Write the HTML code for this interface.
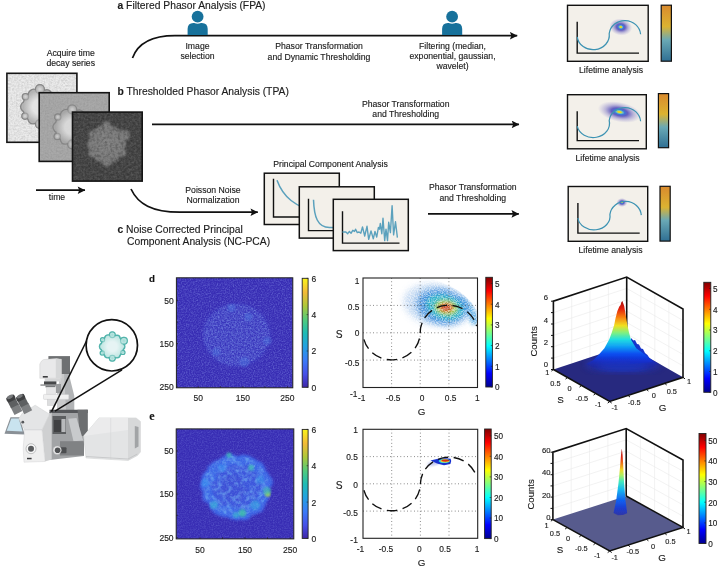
<!DOCTYPE html>
<html><head><meta charset="utf-8"><title>Phasor analysis figure</title>
<style>html,body{margin:0;padding:0;background:#fff}svg{display:block}text{font-family:'Liberation Sans',Arial,sans-serif;stroke:#222;stroke-width:0.14px}text.sf{font-family:'Liberation Serif',serif}</style></head>
<body><svg width="720" height="567" viewBox="0 0 720 567">
<defs>
<marker id="ah" viewBox="0 0 10 10" refX="9.6" refY="5" markerWidth="9" markerHeight="7.6" markerUnits="userSpaceOnUse" orient="auto"><path d="M0,0 L10,5 L0,10 L1.9,5 Z" fill="#111"/></marker>
<linearGradient id="cbA" x1="0" y1="0" x2="0" y2="1"><stop offset="0" stop-color="#d98a2e"/><stop offset="0.38" stop-color="#dcb331"/><stop offset="0.62" stop-color="#6aa9b5"/><stop offset="1" stop-color="#2f6f93"/></linearGradient>
<linearGradient id="parula" x1="0" y1="1" x2="0" y2="0"><stop offset="0" stop-color="#3e26a8"/><stop offset="0.12" stop-color="#4650e8"/><stop offset="0.25" stop-color="#3a7cf8"/><stop offset="0.38" stop-color="#22a3e0"/><stop offset="0.5" stop-color="#1fbcb4"/><stop offset="0.62" stop-color="#52cb7c"/><stop offset="0.75" stop-color="#b0c838"/><stop offset="0.87" stop-color="#f2ba38"/><stop offset="1" stop-color="#f9f418"/></linearGradient>
<linearGradient id="jet" x1="0" y1="1" x2="0" y2="0"><stop offset="0" stop-color="#00008f"/><stop offset="0.125" stop-color="#0000ff"/><stop offset="0.375" stop-color="#00ffff"/><stop offset="0.5" stop-color="#80ff80"/><stop offset="0.625" stop-color="#ffff00"/><stop offset="0.875" stop-color="#ff0000"/><stop offset="1" stop-color="#800000"/></linearGradient>
<radialGradient id="blob"><stop offset="0" stop-color="#f0d818"/><stop offset="0.07" stop-color="#ecd820"/><stop offset="0.15" stop-color="#6cc4c0"/><stop offset="0.24" stop-color="#3f74d8"/><stop offset="0.38" stop-color="#4c46b8" stop-opacity="0.85"/><stop offset="0.65" stop-color="#6c64c0" stop-opacity="0.42"/><stop offset="1" stop-color="#9088d0" stop-opacity="0"/></radialGradient>
<filter id="nz1" x="0" y="0" width="1" height="1"><feTurbulence type="fractalNoise" baseFrequency="0.55" numOctaves="2" seed="3" result="t"/><feColorMatrix type="matrix" values="0 0 0 0 0  0 0 0 0 0  0 0 0 0 0  1.5 1.5 0 0 -1.1" result="n"/><feComposite in="SourceGraphic" in2="n" operator="in"/></filter>
<filter id="nz2" x="0" y="0" width="1" height="1"><feTurbulence type="fractalNoise" baseFrequency="0.38" numOctaves="2" seed="13" result="t"/><feColorMatrix type="matrix" values="0 0 0 0 0  0 0 0 0 0  0 0 0 0 0  2.2 2.2 0 0 -1.9" result="n"/><feComposite in="SourceGraphic" in2="n" operator="in"/></filter>
<filter id="nz3" x="0" y="0" width="1" height="1"><feTurbulence type="fractalNoise" baseFrequency="0.42" numOctaves="2" seed="29" result="t"/><feColorMatrix type="matrix" values="0 0 0 0 0  0 0 0 0 0  0 0 0 0 0  0 2.2 2.2 0 -1.9" result="n"/><feComposite in="SourceGraphic" in2="n" operator="in"/></filter>
<radialGradient id="cb_g1"><stop offset="0.45" stop-color="#e4e4e4"/><stop offset="1" stop-color="#b0b0b0"/></radialGradient>
<radialGradient id="cp_g1"><stop offset="0.2" stop-color="#d2d2d2"/><stop offset="1" stop-color="#b0b0b0"/></radialGradient>
<radialGradient id="cb_g2"><stop offset="0.45" stop-color="#dcdcdc"/><stop offset="1" stop-color="#a8a8a8"/></radialGradient>
<radialGradient id="cp_g2"><stop offset="0.2" stop-color="#cccccc"/><stop offset="1" stop-color="#a8a8a8"/></radialGradient>
<radialGradient id="cb_g3"><stop offset="0.45" stop-color="#868686"/><stop offset="1" stop-color="#7e7e7e"/></radialGradient>
<radialGradient id="cp_g3"><stop offset="0.2" stop-color="#848484"/><stop offset="1" stop-color="#7e7e7e"/></radialGradient>
<radialGradient id="cb_t"><stop offset="0.45" stop-color="#e6f4f4"/><stop offset="1" stop-color="#c4e8e4"/></radialGradient>
<radialGradient id="cp_t"><stop offset="0.2" stop-color="#a8ded8"/><stop offset="1" stop-color="#c4e8e4"/></radialGradient>
<filter id="nzh" x="0" y="0" width="1" height="1"><feTurbulence type="fractalNoise" baseFrequency="0.75" numOctaves="2" seed="9"/><feColorMatrix type="matrix" values="0 0 0 0 0.28  0 0 0 0 0.34  0 0 0 0 0.86  1.4 1.4 0 0 -1.15"/></filter>
<filter id="nzh3" x="0" y="0" width="1" height="1"><feTurbulence type="fractalNoise" baseFrequency="0.6" numOctaves="2" seed="17"/><feColorMatrix type="matrix" values="0 0 0 0 0.28  0 0 0 0 0.45  0 0 0 0 0.92  1.8 1.8 0 0 -1.55"/><feComposite in2="SourceGraphic" operator="in"/></filter>
<filter id="nzh2" x="0" y="0" width="1" height="1"><feTurbulence type="fractalNoise" baseFrequency="0.22" numOctaves="3" seed="4"/><feColorMatrix type="matrix" values="0 0 0 0 0.2  0 0 0 0 0.55  0 0 0 0 0.93  2.0 2.0 0 0 -1.75"/><feComposite in2="SourceGraphic" operator="in"/></filter>
<filter id="blur3"><feGaussianBlur stdDeviation="3"/></filter><filter id="blur2"><feGaussianBlur stdDeviation="1.6"/></filter><filter id="blur1"><feGaussianBlur stdDeviation="0.8"/></filter>
<filter id="rough" x="-0.1" y="-0.1" width="1.2" height="1.2"><feTurbulence type="fractalNoise" baseFrequency="0.09" numOctaves="2" seed="8" result="t"/><feDisplacementMap in="SourceGraphic" in2="t" scale="9" xChannelSelector="R" yChannelSelector="G"/><feGaussianBlur stdDeviation="1.1"/></filter>
<filter id="spk" x="0" y="0" width="1" height="1"><feTurbulence type="fractalNoise" baseFrequency="0.85" numOctaves="1" seed="21"/><feColorMatrix type="matrix" values="0 0 0 0 1  0 0 0 0 1  0 0 0 0 1  3 3 0 0 -2.6"/></filter>
<linearGradient id="pkg1" gradientUnits="userSpaceOnUse" x1="0" y1="366" x2="0" y2="300.9"><stop offset="0" stop-color="#1c24a4"/><stop offset="0.09" stop-color="#1232d6"/><stop offset="0.19" stop-color="#0c50f0"/><stop offset="0.3" stop-color="#10a0f4"/><stop offset="0.41" stop-color="#22e0e0"/><stop offset="0.51" stop-color="#80f080"/><stop offset="0.62" stop-color="#f0e020"/><stop offset="0.75" stop-color="#f88010"/><stop offset="0.88" stop-color="#e42010"/><stop offset="1" stop-color="#a81010"/></linearGradient>
<filter id="blur05"><feGaussianBlur stdDeviation="0.45"/></filter>
<linearGradient id="pkfade" gradientUnits="userSpaceOnUse" x1="0" y1="356" x2="0" y2="371"><stop offset="0" stop-color="#fff"/><stop offset="1" stop-color="#000"/></linearGradient><mask id="pkmask"><rect x="560" y="290" width="130" height="66.5" fill="#fff"/><rect x="560" y="356" width="130" height="20" fill="url(#pkfade)"/></mask>
<linearGradient id="pkg2" gradientUnits="userSpaceOnUse" x1="0" y1="515" x2="0" y2="448.5"><stop offset="0" stop-color="#3038a8"/><stop offset="0.1" stop-color="#1c3cd0"/><stop offset="0.22" stop-color="#1060f0"/><stop offset="0.38" stop-color="#18b8f0"/><stop offset="0.5" stop-color="#40e8c0"/><stop offset="0.6" stop-color="#b0f060"/><stop offset="0.68" stop-color="#f0d828"/><stop offset="0.76" stop-color="#f08818"/><stop offset="0.86" stop-color="#e02c14"/><stop offset="1" stop-color="#a01010"/></linearGradient>
</defs>
<rect width="720" height="567" fill="#fff"/>
<g><clipPath id="gc1"><rect x="6.9" y="73.3" width="70" height="69"/></clipPath>
<rect x="6.9" y="73.3" width="70" height="69" fill="#ececec"/>
<rect x="6.9" y="73.3" width="70" height="69" fill="#c8c8c8" filter="url(#nz1)" opacity="0.7"/>
<g clip-path="url(#gc1)"><g opacity="0.93"><g filter="url(#blur05)"><circle cx="46.9" cy="94.6" r="5.6" fill="#808080"/><circle cx="54.0" cy="106.8" r="5.6" fill="#808080"/><circle cx="46.9" cy="119.0" r="5.6" fill="#808080"/><circle cx="32.9" cy="119.0" r="5.6" fill="#808080"/><circle cx="25.8" cy="106.8" r="5.9" fill="#808080"/><circle cx="33.9" cy="94.0" r="5.6" fill="#808080"/><circle cx="33.0" cy="94.9" r="5.6" fill="#808080"/><circle cx="39.9" cy="106.8" r="17.9" fill="#808080"/><circle cx="39.9" cy="89.2" r="5.1" fill="#808080"/><circle cx="57.1" cy="98.0" r="5.8" fill="#808080"/><circle cx="55.6" cy="115.5" r="3.8" fill="#808080"/><circle cx="39.9" cy="124.0" r="5.1" fill="#808080"/><circle cx="25.0" cy="116.1" r="3.8" fill="#808080"/><circle cx="25.5" cy="96.7" r="3.8" fill="#808080"/><circle cx="46.9" cy="94.6" r="4.2" fill="#b0b0b0"/><circle cx="54.0" cy="106.8" r="4.2" fill="#b0b0b0"/><circle cx="46.9" cy="119.0" r="4.2" fill="#b0b0b0"/><circle cx="32.9" cy="119.0" r="4.2" fill="#b0b0b0"/><circle cx="25.8" cy="106.8" r="4.5" fill="#b0b0b0"/><circle cx="33.9" cy="94.0" r="4.2" fill="#b0b0b0"/><circle cx="33.0" cy="94.9" r="4.2" fill="#b0b0b0"/><circle cx="39.9" cy="106.8" r="16.5" fill="url(#cb_g1)"/><circle cx="39.9" cy="89.2" r="5.0" fill="#808080" opacity="0.55"/><circle cx="39.9" cy="89.2" r="3.9" fill="url(#cp_g1)"/><circle cx="57.1" cy="98.0" r="5.7" fill="#808080" opacity="0.55"/><circle cx="57.1" cy="98.0" r="4.6" fill="url(#cp_g1)"/><circle cx="55.6" cy="115.5" r="3.7" fill="#808080" opacity="0.55"/><circle cx="55.6" cy="115.5" r="2.6" fill="url(#cp_g1)"/><circle cx="39.9" cy="124.0" r="5.0" fill="#808080" opacity="0.55"/><circle cx="39.9" cy="124.0" r="3.9" fill="url(#cp_g1)"/><circle cx="25.0" cy="116.1" r="3.7" fill="#808080" opacity="0.55"/><circle cx="25.0" cy="116.1" r="2.6" fill="url(#cp_g1)"/><circle cx="25.5" cy="96.7" r="3.7" fill="#808080" opacity="0.55"/><circle cx="25.5" cy="96.7" r="2.6" fill="url(#cp_g1)"/></g></g></g>
<rect x="6.9" y="73.3" width="70" height="69" fill="none" stroke="#151515" stroke-width="1.6"/></g>
<g><clipPath id="gc2"><rect x="39.2" y="92.7" width="70" height="68.7"/></clipPath>
<rect x="39.2" y="92.7" width="70" height="68.7" fill="#a9a9a9"/>
<rect x="39.2" y="92.7" width="70" height="68.7" fill="#969696" filter="url(#nz1)" opacity="0.6"/>
<g clip-path="url(#gc2)"><g opacity="0.93"><g filter="url(#blur05)"><circle cx="79.2" cy="114.9" r="5.6" fill="#858585"/><circle cx="86.3" cy="127.1" r="5.6" fill="#858585"/><circle cx="79.2" cy="139.2" r="5.6" fill="#858585"/><circle cx="65.2" cy="139.2" r="5.6" fill="#858585"/><circle cx="58.1" cy="127.1" r="5.9" fill="#858585"/><circle cx="66.2" cy="114.3" r="5.6" fill="#858585"/><circle cx="65.3" cy="115.2" r="5.6" fill="#858585"/><circle cx="72.2" cy="127.1" r="17.9" fill="#858585"/><circle cx="72.2" cy="109.5" r="5.1" fill="#858585"/><circle cx="89.4" cy="118.3" r="5.8" fill="#858585"/><circle cx="87.9" cy="135.8" r="3.8" fill="#858585"/><circle cx="72.2" cy="144.3" r="5.1" fill="#858585"/><circle cx="57.3" cy="136.4" r="3.8" fill="#858585"/><circle cx="57.8" cy="117.0" r="3.8" fill="#858585"/><circle cx="79.2" cy="114.9" r="4.2" fill="#a8a8a8"/><circle cx="86.3" cy="127.1" r="4.2" fill="#a8a8a8"/><circle cx="79.2" cy="139.2" r="4.2" fill="#a8a8a8"/><circle cx="65.2" cy="139.2" r="4.2" fill="#a8a8a8"/><circle cx="58.1" cy="127.1" r="4.5" fill="#a8a8a8"/><circle cx="66.2" cy="114.3" r="4.2" fill="#a8a8a8"/><circle cx="65.3" cy="115.2" r="4.2" fill="#a8a8a8"/><circle cx="72.2" cy="127.1" r="16.5" fill="url(#cb_g2)"/><circle cx="72.2" cy="109.5" r="5.0" fill="#858585" opacity="0.55"/><circle cx="72.2" cy="109.5" r="3.9" fill="url(#cp_g2)"/><circle cx="89.4" cy="118.3" r="5.7" fill="#858585" opacity="0.55"/><circle cx="89.4" cy="118.3" r="4.6" fill="url(#cp_g2)"/><circle cx="87.9" cy="135.8" r="3.7" fill="#858585" opacity="0.55"/><circle cx="87.9" cy="135.8" r="2.6" fill="url(#cp_g2)"/><circle cx="72.2" cy="144.3" r="5.0" fill="#858585" opacity="0.55"/><circle cx="72.2" cy="144.3" r="3.9" fill="url(#cp_g2)"/><circle cx="57.3" cy="136.4" r="3.7" fill="#858585" opacity="0.55"/><circle cx="57.3" cy="136.4" r="2.6" fill="url(#cp_g2)"/><circle cx="57.8" cy="117.0" r="3.7" fill="#858585" opacity="0.55"/><circle cx="57.8" cy="117.0" r="2.6" fill="url(#cp_g2)"/></g></g></g>
<rect x="39.2" y="92.7" width="70" height="68.7" fill="none" stroke="#151515" stroke-width="1.6"/></g>
<g><clipPath id="gc3"><rect x="72.5" y="112.1" width="69.7" height="69"/></clipPath>
<rect x="72.5" y="112.1" width="69.7" height="69" fill="#4a4a4a"/>
<rect x="72.5" y="112.1" width="69.7" height="69" fill="#343434" filter="url(#nz1)" opacity="0.7"/>
<g clip-path="url(#gc3)"><g filter="url(#blur1)" opacity="0.93"><g filter="url(#blur05)"><circle cx="113.8" cy="132.0" r="5.6" fill="#767676"/><circle cx="120.8" cy="144.2" r="5.6" fill="#767676"/><circle cx="113.8" cy="156.4" r="5.6" fill="#767676"/><circle cx="99.7" cy="156.4" r="5.6" fill="#767676"/><circle cx="92.7" cy="144.2" r="5.9" fill="#767676"/><circle cx="100.8" cy="131.4" r="5.6" fill="#767676"/><circle cx="99.9" cy="132.3" r="5.6" fill="#767676"/><circle cx="106.8" cy="144.2" r="17.9" fill="#767676"/><circle cx="106.8" cy="126.6" r="5.1" fill="#767676"/><circle cx="124.0" cy="135.4" r="5.8" fill="#767676"/><circle cx="122.5" cy="152.9" r="3.8" fill="#767676"/><circle cx="106.8" cy="161.4" r="5.1" fill="#767676"/><circle cx="91.8" cy="153.5" r="3.8" fill="#767676"/><circle cx="92.3" cy="134.1" r="3.8" fill="#767676"/><circle cx="113.8" cy="132.0" r="4.7" fill="#7e7e7e"/><circle cx="120.8" cy="144.2" r="4.7" fill="#7e7e7e"/><circle cx="113.8" cy="156.4" r="4.7" fill="#7e7e7e"/><circle cx="99.7" cy="156.4" r="4.7" fill="#7e7e7e"/><circle cx="92.7" cy="144.2" r="5.1" fill="#7e7e7e"/><circle cx="100.8" cy="131.4" r="4.7" fill="#7e7e7e"/><circle cx="99.9" cy="132.3" r="4.7" fill="#7e7e7e"/><circle cx="106.8" cy="144.2" r="17.1" fill="url(#cb_g3)"/><circle cx="106.8" cy="126.6" r="5.0" fill="#767676" opacity="0.55"/><circle cx="106.8" cy="126.6" r="4.3" fill="url(#cp_g3)"/><circle cx="124.0" cy="135.4" r="5.7" fill="#767676" opacity="0.55"/><circle cx="124.0" cy="135.4" r="5.0" fill="url(#cp_g3)"/><circle cx="122.5" cy="152.9" r="3.7" fill="#767676" opacity="0.55"/><circle cx="122.5" cy="152.9" r="3.1" fill="url(#cp_g3)"/><circle cx="106.8" cy="161.4" r="5.0" fill="#767676" opacity="0.55"/><circle cx="106.8" cy="161.4" r="4.3" fill="url(#cp_g3)"/><circle cx="91.8" cy="153.5" r="3.7" fill="#767676" opacity="0.55"/><circle cx="91.8" cy="153.5" r="3.1" fill="url(#cp_g3)"/><circle cx="92.3" cy="134.1" r="3.7" fill="#767676" opacity="0.55"/><circle cx="92.3" cy="134.1" r="3.1" fill="url(#cp_g3)"/></g></g></g>
<rect x="72.5" y="112.1" width="69.7" height="69" fill="#2c2c2c" filter="url(#nz2)" opacity="0.3"/>
<rect x="72.5" y="112.1" width="69.7" height="69" fill="#a0a0a0" filter="url(#nz3)" opacity="0.16"/>
<rect x="72.5" y="112.1" width="69.7" height="69" fill="none" stroke="#151515" stroke-width="1.6"/></g>
<text x="70.70" y="56.00" font-size="8.67" text-anchor="middle" font-weight="normal" fill="#1a1a1a" >Acquire time</text>
<text x="70.70" y="66.20" font-size="8.67" text-anchor="middle" font-weight="normal" fill="#1a1a1a" >decay series</text>
<line x1="36" y1="190.2" x2="85" y2="190.2" stroke="#111" stroke-width="1.7" marker-end="url(#ah)"/>
<text x="57.00" y="199.90" font-size="8.67" text-anchor="middle" font-weight="normal" fill="#1a1a1a" >time</text>
<text x="117.5" y="8.7" font-size="10.3" fill="#1a1a1a"><tspan font-weight="bold">a</tspan> Filtered Phasor Analysis (FPA)</text>
<path d="M132.5,58 C138,43 152,35.7 175,35.7 L517.2,35.7" fill="none" stroke="#111" stroke-width="1.7" marker-end="url(#ah)"/>
<path d="M187.6,35 L187.6,29 Q187.6,22.9 193.4,22.9 L201.79999999999998,22.9 Q207.7,22.9 207.7,29 L207.7,35 Z" fill="#17719b"/>
<circle cx="197.6" cy="16.7" r="7.1" fill="#fff"/>
<circle cx="197.6" cy="16.7" r="5.9" fill="#17719b"/>
<path d="M442.1,35 L442.1,29 Q442.1,22.9 447.90000000000003,22.9 L456.3,22.9 Q462.20000000000005,22.9 462.20000000000005,29 L462.20000000000005,35 Z" fill="#17719b"/>
<circle cx="452.1" cy="16.7" r="7.1" fill="#fff"/>
<circle cx="452.1" cy="16.7" r="5.9" fill="#17719b"/>
<text x="197.50" y="48.70" font-size="8.67" text-anchor="middle" font-weight="normal" fill="#1a1a1a" >Image</text>
<text x="197.50" y="58.90" font-size="8.67" text-anchor="middle" font-weight="normal" fill="#1a1a1a" >selection</text>
<text x="319.00" y="49.20" font-size="8.67" text-anchor="middle" font-weight="normal" fill="#1a1a1a" >Phasor Transformation</text>
<text x="319.00" y="59.60" font-size="8.67" text-anchor="middle" font-weight="normal" fill="#1a1a1a" >and Dynamic Thresholding</text>
<text x="452.50" y="48.70" font-size="8.67" text-anchor="middle" font-weight="normal" fill="#1a1a1a" >Filtering (median,</text>
<text x="452.50" y="58.90" font-size="8.67" text-anchor="middle" font-weight="normal" fill="#1a1a1a" >exponential, gaussian,</text>
<text x="452.50" y="69.40" font-size="8.67" text-anchor="middle" font-weight="normal" fill="#1a1a1a" >wavelet)</text>
<text x="117.5" y="95.4" font-size="10.3" fill="#1a1a1a"><tspan font-weight="bold">b</tspan> Thresholded Phasor Analysis (TPA)</text>
<line x1="152" y1="124.4" x2="519" y2="124.4" stroke="#111" stroke-width="1.7" marker-end="url(#ah)"/>
<text x="405.70" y="106.60" font-size="8.67" text-anchor="middle" font-weight="normal" fill="#1a1a1a" >Phasor Transformation</text>
<text x="405.70" y="117.40" font-size="8.67" text-anchor="middle" font-weight="normal" fill="#1a1a1a" >and Thresholding</text>
<path d="M131,189 C138,204 152,212.2 180,212.2 L257.8,212.2" fill="none" stroke="#111" stroke-width="1.7" marker-end="url(#ah)"/>
<text x="213.00" y="192.70" font-size="8.67" text-anchor="middle" font-weight="normal" fill="#1a1a1a" >Poisson Noise</text>
<text x="213.00" y="203.20" font-size="8.67" text-anchor="middle" font-weight="normal" fill="#1a1a1a" >Normalization</text>
<text x="117.5" y="232.9" font-size="10.3" fill="#1a1a1a"><tspan font-weight="bold">c</tspan> Noise Corrected Principal</text>
<text x="127" y="245" font-size="10.3" fill="#1a1a1a">Component Analysis (NC-PCA)</text>
<text x="330.50" y="167.20" font-size="8.67" text-anchor="middle" font-weight="normal" fill="#1a1a1a" >Principal Component Analysis</text>
<rect x="264.3" y="173.2" width="75" height="51.3" fill="#f3f0ea" stroke="#111" stroke-width="1.5"/>
<path d="M273.5,178.7 L273.5,217.0 L330.5,217.0" fill="none" stroke="#111" stroke-width="1.4"/>
<path d="M277.0,180.2 C282.5,195.2 293.5,208.2 323.5,213.7" fill="none" stroke="#5ba1bd" stroke-width="1.5"/>
<rect x="299.3" y="186.8" width="75" height="51.3" fill="#f3f0ea" stroke="#111" stroke-width="1.5"/>
<path d="M308.5,198.8 L308.5,230.60000000000002 L365.5,230.60000000000002" fill="none" stroke="#111" stroke-width="1.4"/>
<path d="M313.5,199.8 C314.1,216.8 317.5,227.5 329.5,227.5 L353.5,227.70000000000002" fill="none" stroke="#5ba1bd" stroke-width="1.5"/>
<rect x="333.3" y="199.3" width="75" height="51.3" fill="#f3f0ea" stroke="#111" stroke-width="1.5"/>
<path d="M342.5,211.3 L342.5,243.10000000000002 L399.5,243.10000000000002" fill="none" stroke="#111" stroke-width="1.4"/>
<path d="M342.5,232.0 L345.9,232.0 L347.7,233.7 L349.4,231.4 L351.1,233.2 L352.8,230.3 L354.5,231.4 L355.6,229.2 L357.3,232.6 L359.0,232.0 L360.8,233.2 L362.5,226.9 L364.7,236.0 L367.0,226.3 L368.7,239.4 L371.0,230.9 L373.3,238.8 L375.0,231.4 L376.7,237.1 L378.4,227.5 L379.5,229.2 L380.3,223.5 L381.8,233.7 L383.0,218.3 L384.7,240.6 L386.0,229.2 L387.5,240.6 L388.7,222.3 L390.4,232.6 L392.1,205.8 L393.6,234.9 L395.5,221.8 L397.4,237.7" fill="none" stroke="#5ba1bd" stroke-width="1.4" stroke-linejoin="round"/>
<text x="472.80" y="190.10" font-size="8.67" text-anchor="middle" font-weight="normal" fill="#1a1a1a" >Phasor Transformation</text>
<text x="472.80" y="201.10" font-size="8.67" text-anchor="middle" font-weight="normal" fill="#1a1a1a" >and Thresholding</text>
<line x1="428" y1="213.9" x2="518.8" y2="213.9" stroke="#111" stroke-width="1.7" marker-end="url(#ah)"/>
<rect x="567.5" y="5.3" width="80.7" height="56" fill="#f3f0ea" stroke="#111" stroke-width="1.4"/>
<path d="M577.2,21.8 L577.2,53.099999999999994 L639.0,53.099999999999994" fill="none" stroke="#111" stroke-width="1.4"/>
<ellipse cx="620.8" cy="27" rx="11.5" ry="8.5" fill="url(#blob)" transform="rotate(8 620.8 27)"/>
<path d="M577.2,36.8 A16,14.5 0 0 0 609.2,33.5 A15.8,15.0 0 0 1 640.6,34.3" fill="none" stroke="#3d93b3" stroke-width="1.25"/>
<rect x="661.2" y="5.2" width="10.2" height="56" fill="url(#cbA)" stroke="#111" stroke-width="1.2"/>
<text x="611.00" y="72.70" font-size="8.67" text-anchor="middle" font-weight="normal" fill="#1a1a1a" >Lifetime analysis</text>
<rect x="567.5" y="94.7" width="78.8" height="54.1" fill="#f3f0ea" stroke="#111" stroke-width="1.4"/>
<path d="M577.2,111.2 L577.2,140.60000000000002 L639.0,140.60000000000002" fill="none" stroke="#111" stroke-width="1.4"/>
<ellipse cx="619.5" cy="112" rx="22" ry="10" fill="url(#blob)" transform="rotate(12 619.5 112)"/>
<path d="M577.2,126.2 A16,13.9 0 0 0 609.2,120.5 A15.8,15.0 0 0 1 640.6,121.3" fill="none" stroke="#3d93b3" stroke-width="1.25"/>
<rect x="658.4" y="93.6" width="10.2" height="54.1" fill="url(#cbA)" stroke="#111" stroke-width="1.2"/>
<text x="607.50" y="161.10" font-size="8.67" text-anchor="middle" font-weight="normal" fill="#1a1a1a" >Lifetime analysis</text>
<rect x="568.2" y="186.5" width="79.5" height="54.8" fill="#f3f0ea" stroke="#111" stroke-width="1.4"/>
<path d="M577.9000000000001,203.0 L577.9000000000001,233.10000000000002 L639.7,233.10000000000002" fill="none" stroke="#111" stroke-width="1.4"/>
<ellipse cx="622" cy="202.5" rx="5.5" ry="4.5" fill="url(#blob)" transform="rotate(0 622 202.5)"/>
<path d="M577.9000000000001,218.0 A16,13.6 0 0 0 609.9000000000001,214.3 A15.8,15.0 0 0 1 641.3000000000001,215.1" fill="none" stroke="#3d93b3" stroke-width="1.25"/>
<rect x="660" y="186.3" width="10.2" height="54.8" fill="url(#cbA)" stroke="#111" stroke-width="1.2"/>
<text x="610.50" y="253.10" font-size="8.67" text-anchor="middle" font-weight="normal" fill="#1a1a1a" >Lifetime analysis</text>
<polygon points="48.4,356.1 70.0,356.1 70.0,374.3 48.4,374.3" fill="#6e7072" stroke="none" stroke-width="0.5" />
<polygon points="61.0,374.0 68.8,374.0 74.3,396.0 74.3,410.0 57.0,410.0 57.0,392.0" fill="#b2b4b6" stroke="none" stroke-width="0.5" />
<polygon points="61.0,374.0 64.0,374.0 66.0,410.0 57.0,410.0 57.0,392.0" fill="#c9cacb" stroke="none" stroke-width="0.5" />
<polygon points="49.5,412.0 87.7,409.7 87.7,431.0 84.0,441.0 84.0,456.0 49.5,460.0" fill="#a2a4a6" stroke="none" stroke-width="0.5" />
<polygon points="49.5,409.7 87.7,409.7 87.7,413.0 49.5,413.0" fill="#55575a" stroke="none" stroke-width="0.5" />
<polygon points="77.5,409.7 87.7,409.7 87.7,431.0 84.0,436.0 80.0,436.0" fill="#6c6e70" stroke="none" stroke-width="0.5" />
<polygon points="52.5,416.0 66.0,416.0 66.0,434.0 52.5,434.0" fill="#5c5e60" stroke="none" stroke-width="0.5" />
<polygon points="54.0,420.0 61.0,420.0 61.0,432.0 54.0,432.0" fill="#3f4042" stroke="none" stroke-width="0.5" />
<polygon points="61.5,419.0 65.5,419.0 65.5,432.0 61.5,432.0" fill="#b8babc" stroke="none" stroke-width="0.5" />
<polygon points="68.2,418.7 76.5,418.0 83.2,440.5 73.5,441.2" fill="#c8cacc" stroke="none" stroke-width="0.5" />
<polygon points="60.0,441.2 84.0,441.2 84.0,455.5 60.0,455.5" fill="#808284" stroke="none" stroke-width="0.5" />
<rect x="57" y="447.2" width="9.5" height="6" rx="1" fill="#4c4e50"/>
<circle cx="57.2" cy="450.2" r="4.2" fill="#e8e8e9" stroke="#aaa" stroke-width="0.4"/><circle cx="57.6" cy="450.2" r="2.8" fill="#505254"/>
<polygon points="99.0,417.9 136.0,417.9 140.4,421.5 140.4,452.0 137.3,455.6 128.0,460.5 86.0,458.0 83.6,436.0" fill="#e3e4e5" stroke="#cfd0d1" stroke-width="0.5" />
<polygon points="99.0,417.9 128.0,417.9 128.0,430.0 83.6,436.0" fill="#ebebec" stroke="none" stroke-width="0.5" />
<polygon points="128.0,417.9 136.0,417.9 140.4,421.5 140.4,452.0 137.3,455.6 128.0,460.5" fill="#d7d8d9" stroke="none" stroke-width="0.5" />
<polygon points="134.8,426.0 138.5,427.0 138.5,446.5 134.8,448.5" fill="#a2a4a6" stroke="none" stroke-width="0.5" />
<line x1="110.7" y1="418" x2="110.7" y2="459.3" stroke="#d2d3d4" stroke-width="0.5"/>
<path d="M86,456.5 L128,459 L137.3,454" fill="none" stroke="#c2c3c4" stroke-width="0.8"/>
<polygon points="41.5,361.0 43.5,359.6 55.8,358.6 61.4,359.2 61.4,378.3 39.8,378.3 39.8,364.0" fill="#e9e9ea" stroke="#c4c5c6" stroke-width="0.4" />
<polygon points="55.8,358.6 61.4,359.2 61.4,378.3 55.8,378.3" fill="#d6d7d8" stroke="none" stroke-width="0.5" />
<rect x="42.8" y="376" width="5" height="1.6" fill="#3c3d3f"/>
<rect x="44.7" y="378.3" width="16" height="3.2" fill="#d4d5d6"/>
<rect x="44" y="381.4" width="12.4" height="3.2" fill="#47484a"/>
<rect x="40.4" y="384.5" width="18" height="1.1" fill="#6a6c6e"/>
<rect x="45.5" y="385.6" width="10" height="1.8" fill="#77797b"/>
<rect x="46.5" y="387.2" width="9.3" height="7.4" fill="#e6e6e7" stroke="#c8c8c8" stroke-width="0.3"/>
<rect x="56" y="384" width="5" height="9" fill="#9a9c9e"/>
<rect x="43.5" y="394.4" width="25.3" height="5" rx="0.8" fill="#f0f0f0" stroke="#c2c3c4" stroke-width="0.4"/>
<rect x="47.2" y="399.4" width="8" height="6.3" fill="#dcddde" stroke="#c2c3c4" stroke-width="0.3"/>
<polygon points="10.5,417.2 19.5,417.2 24.7,434.5 4.5,433.7" fill="#8a9096" stroke="none" stroke-width="0.5" />
<polygon points="11.3,418.6 18.7,418.6 22.6,431.6 6.7,430.8" fill="#c9e3ef" stroke="none" stroke-width="0.5" />
<polygon points="35.2,405.2 49.5,414.2 42.0,430.0 24.7,430.0 18.7,418.7 22.5,413.0" fill="#e4e5e6" stroke="#c6c7c8" stroke-width="0.4" />
<polygon points="49.5,414.2 51.7,412.5 51.7,459.5 45.0,461.5 42.0,430.0" fill="#cfd0d1" stroke="none" stroke-width="0.5" />
<polygon points="24.7,430.0 42.0,430.0 45.0,461.5 24.0,462.2 23.2,448.0" fill="#efefef" stroke="#cccdce" stroke-width="0.4" />
<circle cx="31" cy="448.7" r="5" fill="#f8f8f8" stroke="#9c9ea0" stroke-width="0.6"/>
<circle cx="31" cy="448.7" r="3" fill="#5a5c5e"/>
<rect x="27" y="457.8" width="4.6" height="1.5" fill="#3c3d3f"/>
<circle cx="22.8" cy="422.2" r="1.4" fill="#55575a"/>
<g transform="translate(11.2 399.2) rotate(-27)"><rect x="-4.2" y="7" width="8.8" height="8.5" fill="#7d7f81"/><rect x="-4.3" y="1" width="8.6" height="7" fill="#5d5f61"/><rect x="-4.6" y="-3.6" width="9.2" height="5.6" rx="2.2" fill="#3e3f41"/><ellipse cx="0" cy="-2.6" rx="3.3" ry="1.7" fill="#77797b"/></g>
<g transform="translate(21 398.5) rotate(-27)"><rect x="-4.2" y="7" width="8.8" height="8.5" fill="#7d7f81"/><rect x="-4.3" y="1" width="8.6" height="7" fill="#5d5f61"/><rect x="-4.6" y="-3.6" width="9.2" height="5.6" rx="2.2" fill="#3e3f41"/><ellipse cx="0" cy="-2.6" rx="3.3" ry="1.7" fill="#77797b"/></g>
<line x1="51.5" y1="411.7" x2="88" y2="338" stroke="#111" stroke-width="1.5"/>
<line x1="55" y1="411.2" x2="122" y2="369.8" stroke="#111" stroke-width="1.5"/>
<circle cx="111.8" cy="345.3" r="25.7" fill="#fff" stroke="#111" stroke-width="1.7"/>
<g filter="url(#blur05)"><circle cx="117.0" cy="338.4" r="3.8" fill="#52b4ac"/><circle cx="121.7" cy="346.6" r="3.8" fill="#52b4ac"/><circle cx="117.0" cy="354.8" r="3.8" fill="#52b4ac"/><circle cx="107.6" cy="354.8" r="3.8" fill="#52b4ac"/><circle cx="102.9" cy="346.6" r="4.1" fill="#52b4ac"/><circle cx="108.3" cy="338.0" r="3.8" fill="#52b4ac"/><circle cx="107.7" cy="338.6" r="3.8" fill="#52b4ac"/><circle cx="112.3" cy="346.6" r="12.1" fill="#52b4ac"/><circle cx="112.3" cy="334.8" r="3.5" fill="#52b4ac"/><circle cx="123.9" cy="340.7" r="4.0" fill="#52b4ac"/><circle cx="122.8" cy="352.4" r="2.7" fill="#52b4ac"/><circle cx="112.3" cy="358.2" r="3.5" fill="#52b4ac"/><circle cx="102.3" cy="352.9" r="2.7" fill="#52b4ac"/><circle cx="102.6" cy="339.8" r="2.7" fill="#52b4ac"/><circle cx="117.0" cy="338.4" r="2.4" fill="#c4e8e4"/><circle cx="121.7" cy="346.6" r="2.4" fill="#c4e8e4"/><circle cx="117.0" cy="354.8" r="2.4" fill="#c4e8e4"/><circle cx="107.6" cy="354.8" r="2.4" fill="#c4e8e4"/><circle cx="102.9" cy="346.6" r="2.7" fill="#c4e8e4"/><circle cx="108.3" cy="338.0" r="2.4" fill="#c4e8e4"/><circle cx="107.7" cy="338.6" r="2.4" fill="#c4e8e4"/><circle cx="112.3" cy="346.6" r="10.7" fill="url(#cb_t)"/><circle cx="112.3" cy="334.8" r="3.4" fill="#52b4ac" opacity="0.55"/><circle cx="112.3" cy="334.8" r="2.3" fill="url(#cp_t)"/><circle cx="123.9" cy="340.7" r="3.9" fill="#52b4ac" opacity="0.55"/><circle cx="123.9" cy="340.7" r="2.8" fill="url(#cp_t)"/><circle cx="122.8" cy="352.4" r="2.6" fill="#52b4ac" opacity="0.55"/><circle cx="122.8" cy="352.4" r="1.5" fill="url(#cp_t)"/><circle cx="112.3" cy="358.2" r="3.4" fill="#52b4ac" opacity="0.55"/><circle cx="112.3" cy="358.2" r="2.3" fill="url(#cp_t)"/><circle cx="102.3" cy="352.9" r="2.6" fill="#52b4ac" opacity="0.55"/><circle cx="102.3" cy="352.9" r="1.5" fill="url(#cp_t)"/><circle cx="102.6" cy="339.8" r="2.6" fill="#52b4ac" opacity="0.55"/><circle cx="102.6" cy="339.8" r="1.5" fill="url(#cp_t)"/></g>
<clipPath id="hc1"><rect x="176.4" y="277.8" width="116.4" height="110"/></clipPath>
<rect x="176.4" y="277.8" width="116.4" height="110" fill="#382db4"/>
<g clip-path="url(#hc1)"><ellipse cx="236.346" cy="335.0" rx="34" ry="32" fill="#3e49cc" opacity="0.35" filter="url(#blur2)"/><g filter="url(#blur05)"><ellipse cx="236.346" cy="335.0" rx="33" ry="31" fill="#fff" filter="url(#nzh3)" opacity="0.42"/></g><circle cx="216.346" cy="352.0" r="4" fill="#4a78e0" opacity="0.45" filter="url(#blur1)"/><circle cx="267.346" cy="341.0" r="4" fill="#4a78e0" opacity="0.45" filter="url(#blur1)"/><circle cx="244.346" cy="362.0" r="5" fill="#4a78e0" opacity="0.45" filter="url(#blur1)"/><circle cx="231.346" cy="308.0" r="4" fill="#4a78e0" opacity="0.45" filter="url(#blur1)"/><circle cx="248.346" cy="317.0" r="4" fill="#4a78e0" opacity="0.45" filter="url(#blur1)"/></g>
<rect x="176.4" y="277.8" width="116.4" height="110" filter="url(#nzh)" opacity="0.42"/>
<rect x="176.4" y="277.8" width="116.4" height="110" fill="none" stroke="#222" stroke-width="1"/>
<line x1="176.4" y1="300.4" x2="178.0" y2="300.4" stroke="#222" stroke-width="0.7"/>
<line x1="198.3" y1="387.8" x2="198.3" y2="386.2" stroke="#222" stroke-width="0.7"/>
<text x="173.80" y="303.85" font-size="8.5" text-anchor="end" font-weight="normal" fill="#1a1a1a" >50</text>
<text x="198.30" y="400.70" font-size="8.5" text-anchor="middle" font-weight="normal" fill="#1a1a1a" >50</text>
<line x1="176.4" y1="343.6" x2="178.0" y2="343.6" stroke="#222" stroke-width="0.7"/>
<line x1="242.8" y1="387.8" x2="242.8" y2="386.2" stroke="#222" stroke-width="0.7"/>
<text x="173.80" y="347.05" font-size="8.5" text-anchor="end" font-weight="normal" fill="#1a1a1a" >150</text>
<text x="242.80" y="400.70" font-size="8.5" text-anchor="middle" font-weight="normal" fill="#1a1a1a" >150</text>
<line x1="176.4" y1="386.8" x2="178.0" y2="386.8" stroke="#222" stroke-width="0.7"/>
<line x1="287.4" y1="387.8" x2="287.4" y2="386.2" stroke="#222" stroke-width="0.7"/>
<text x="173.80" y="390.25" font-size="8.5" text-anchor="end" font-weight="normal" fill="#1a1a1a" >250</text>
<text x="287.40" y="400.70" font-size="8.5" text-anchor="middle" font-weight="normal" fill="#1a1a1a" >250</text>
<line x1="176.4" y1="322.0" x2="178.0" y2="322.0" stroke="#222" stroke-width="0.7"/>
<line x1="220.6" y1="387.8" x2="220.6" y2="386.2" stroke="#222" stroke-width="0.7"/>
<line x1="176.4" y1="365.2" x2="178.0" y2="365.2" stroke="#222" stroke-width="0.7"/>
<line x1="265.1" y1="387.8" x2="265.1" y2="386.2" stroke="#222" stroke-width="0.7"/>
<rect x="302.2" y="278.3" width="5.9" height="109" fill="url(#parula)" stroke="#222" stroke-width="0.9"/>
<line x1="306.59999999999997" y1="387.3" x2="308.09999999999997" y2="387.3" stroke="#222" stroke-width="0.6"/>
<text x="311.40" y="390.75" font-size="8.5" text-anchor="start" font-weight="normal" fill="#1a1a1a" >0</text>
<line x1="306.59999999999997" y1="351.0" x2="308.09999999999997" y2="351.0" stroke="#222" stroke-width="0.6"/>
<text x="311.40" y="354.42" font-size="8.5" text-anchor="start" font-weight="normal" fill="#1a1a1a" >2</text>
<line x1="306.59999999999997" y1="314.6" x2="308.09999999999997" y2="314.6" stroke="#222" stroke-width="0.6"/>
<text x="311.40" y="318.08" font-size="8.5" text-anchor="start" font-weight="normal" fill="#1a1a1a" >4</text>
<line x1="306.59999999999997" y1="278.3" x2="308.09999999999997" y2="278.3" stroke="#222" stroke-width="0.6"/>
<text x="311.40" y="281.75" font-size="8.5" text-anchor="start" font-weight="normal" fill="#1a1a1a" >6</text>
<clipPath id="hc2"><rect x="176.2" y="428.9" width="117.6" height="110"/></clipPath>
<rect x="176.2" y="428.9" width="117.6" height="110" fill="#382db4"/>
<g clip-path="url(#hc2)"><g filter="url(#rough)"><ellipse cx="236.6" cy="486.7" rx="36" ry="33" fill="#3b56dc"/><ellipse cx="236.6" cy="486.7" rx="29.5" ry="27" fill="none" stroke="#3a74ec" stroke-width="9" opacity="0.6"/><ellipse cx="232.6" cy="487.7" rx="13" ry="12" fill="#3a48d0" opacity="0.5"/></g><ellipse cx="235.6" cy="485.7" rx="33" ry="30" fill="#fff" filter="url(#nzh2)" opacity="0.5"/><circle cx="267.8" cy="494" r="2.6" fill="#b8d840" opacity="0.95" filter="url(#blur1)"/><circle cx="267" cy="491" r="4" fill="#40c0b0" opacity="0.7" filter="url(#blur1)"/><circle cx="242.4" cy="513" r="3.8" fill="#3cc4a8" opacity="0.85" filter="url(#blur1)"/><circle cx="236" cy="515" r="3" fill="#38b0d0" opacity="0.8" filter="url(#blur1)"/><circle cx="251" cy="467.8" r="3" fill="#3cc0b0" opacity="0.8" filter="url(#blur1)"/><circle cx="229" cy="455" r="2.6" fill="#3cc0b0" opacity="0.8" filter="url(#blur1)"/><circle cx="213.8" cy="505" r="4" fill="#38a8d8" opacity="0.8" filter="url(#blur1)"/><circle cx="205" cy="483" r="4" fill="#3890f0" opacity="0.7" filter="url(#blur1)"/><circle cx="222" cy="468" r="4" fill="#3890f0" opacity="0.6" filter="url(#blur1)"/><circle cx="255" cy="505" r="5" fill="#38a0e0" opacity="0.7" filter="url(#blur1)"/><circle cx="260" cy="480" r="4" fill="#3898e8" opacity="0.6" filter="url(#blur1)"/></g>
<rect x="176.2" y="428.9" width="117.6" height="110" filter="url(#nzh)" opacity="0.28"/>
<rect x="176.2" y="428.9" width="117.6" height="110" fill="none" stroke="#222" stroke-width="1"/>
<line x1="176.2" y1="451.0" x2="177.79999999999998" y2="451.0" stroke="#222" stroke-width="0.7"/>
<line x1="200.0" y1="538.9" x2="200.0" y2="537.3" stroke="#222" stroke-width="0.7"/>
<text x="173.60" y="454.45" font-size="8.5" text-anchor="end" font-weight="normal" fill="#1a1a1a" >50</text>
<text x="200.00" y="552.80" font-size="8.5" text-anchor="middle" font-weight="normal" fill="#1a1a1a" >50</text>
<line x1="176.2" y1="494.0" x2="177.79999999999998" y2="494.0" stroke="#222" stroke-width="0.7"/>
<line x1="245.0" y1="538.9" x2="245.0" y2="537.3" stroke="#222" stroke-width="0.7"/>
<text x="173.60" y="497.45" font-size="8.5" text-anchor="end" font-weight="normal" fill="#1a1a1a" >150</text>
<text x="245.00" y="552.80" font-size="8.5" text-anchor="middle" font-weight="normal" fill="#1a1a1a" >150</text>
<line x1="176.2" y1="537.6" x2="177.79999999999998" y2="537.6" stroke="#222" stroke-width="0.7"/>
<line x1="290.2" y1="538.9" x2="290.2" y2="537.3" stroke="#222" stroke-width="0.7"/>
<text x="173.60" y="541.05" font-size="8.5" text-anchor="end" font-weight="normal" fill="#1a1a1a" >250</text>
<text x="290.20" y="552.80" font-size="8.5" text-anchor="middle" font-weight="normal" fill="#1a1a1a" >250</text>
<line x1="176.2" y1="472.5" x2="177.79999999999998" y2="472.5" stroke="#222" stroke-width="0.7"/>
<line x1="222.5" y1="538.9" x2="222.5" y2="537.3" stroke="#222" stroke-width="0.7"/>
<line x1="176.2" y1="515.5" x2="177.79999999999998" y2="515.5" stroke="#222" stroke-width="0.7"/>
<line x1="267.5" y1="538.9" x2="267.5" y2="537.3" stroke="#222" stroke-width="0.7"/>
<rect x="302.2" y="429.4" width="5.9" height="109" fill="url(#parula)" stroke="#222" stroke-width="0.9"/>
<line x1="306.59999999999997" y1="538.4" x2="308.09999999999997" y2="538.4" stroke="#222" stroke-width="0.6"/>
<text x="311.40" y="541.85" font-size="8.5" text-anchor="start" font-weight="normal" fill="#1a1a1a" >0</text>
<line x1="306.59999999999997" y1="502.1" x2="308.09999999999997" y2="502.1" stroke="#222" stroke-width="0.6"/>
<text x="311.40" y="505.52" font-size="8.5" text-anchor="start" font-weight="normal" fill="#1a1a1a" >2</text>
<line x1="306.59999999999997" y1="465.7" x2="308.09999999999997" y2="465.7" stroke="#222" stroke-width="0.6"/>
<text x="311.40" y="469.18" font-size="8.5" text-anchor="start" font-weight="normal" fill="#1a1a1a" >4</text>
<line x1="306.59999999999997" y1="429.4" x2="308.09999999999997" y2="429.4" stroke="#222" stroke-width="0.6"/>
<text x="311.40" y="432.85" font-size="8.5" text-anchor="start" font-weight="normal" fill="#1a1a1a" >6</text>
<text x="149.00" y="281.80" font-size="9.8" text-anchor="start" font-weight="bold" fill="#111" >d</text>
<text x="149.20" y="420.20" font-size="12" text-anchor="start" font-weight="bold" fill="#111" class="sf">e</text>
<clipPath id="pc1"><rect x="363" y="278" width="114.5" height="109.5"/></clipPath>
<rect x="363" y="278" width="114.5" height="109.5" fill="#fff"/>
<clipPath id="cloudclip"><ellipse cx="430" cy="310" rx="52" ry="30" transform="rotate(20 430 310)"/></clipPath>
<g clip-path="url(#pc1)"><g clip-path="url(#cloudclip)"><g filter="url(#blur1)"><ellipse cx="437.2" cy="306.6" rx="34" ry="21" fill="#9cc0ea" opacity="0.6" filter="url(#blur3)" transform="rotate(10 446.2 307.6)"/><path d="M456,299 Q470,304 476,324" fill="none" stroke="#3a9be0" stroke-width="9" opacity="0.75" filter="url(#blur2)"/><ellipse cx="441.7" cy="307.6" rx="25" ry="17" fill="#3488da" opacity="0.95" filter="url(#blur3)" transform="rotate(12 446.2 307.6)"/><ellipse cx="444.7" cy="307.6" rx="19" ry="12" fill="#32bcc8" opacity="0.85" filter="url(#blur2)" transform="rotate(16 446.2 307.6)"/><ellipse cx="446.2" cy="307.6" rx="11.5" ry="7.5" fill="#b4d048" opacity="0.9" filter="url(#blur2)" transform="rotate(8 446.2 307.6)"/><ellipse cx="446.2" cy="307.6" rx="7" ry="4.6" fill="#e2602a" opacity="0.92" filter="url(#blur1)"/><ellipse cx="446.2" cy="307.6" rx="3.4" ry="2.2" fill="#b8281a" opacity="0.9" filter="url(#blur1)"/></g></g><rect x="363" y="278" width="114.5" height="109.5" filter="url(#spk)" opacity="0.5"/><line x1="391.6" y1="278" x2="391.6" y2="387.5" stroke="#333" stroke-width="0.7" stroke-dasharray="0.8 2.6"/><line x1="363" y1="360.1" x2="477.5" y2="360.1" stroke="#333" stroke-width="0.7" stroke-dasharray="0.8 2.6"/><line x1="420.2" y1="278" x2="420.2" y2="387.5" stroke="#333" stroke-width="0.7" stroke-dasharray="0.8 2.6"/><line x1="363" y1="332.8" x2="477.5" y2="332.8" stroke="#333" stroke-width="0.7" stroke-dasharray="0.8 2.6"/><line x1="448.9" y1="278" x2="448.9" y2="387.5" stroke="#333" stroke-width="0.7" stroke-dasharray="0.8 2.6"/><line x1="363" y1="305.4" x2="477.5" y2="305.4" stroke="#333" stroke-width="0.7" stroke-dasharray="0.8 2.6"/><path d="M363.9,339.3 A28.6,27.4 0 0 0 420.2,332.8 A28.6,27.4 0 0 1 476.6,326.2" fill="none" stroke="#111" stroke-width="1.35" stroke-dasharray="10.5 5.5"/></g>
<rect x="363" y="278" width="114.5" height="109.5" fill="none" stroke="#222" stroke-width="1.1"/>
<text x="359.40" y="284.20" font-size="8.4" text-anchor="end" font-weight="normal" fill="#1a1a1a" >1</text>
<text x="359.40" y="309.60" font-size="8.4" text-anchor="end" font-weight="normal" fill="#1a1a1a" >0.5</text>
<text x="359.40" y="336.40" font-size="8.4" text-anchor="end" font-weight="normal" fill="#1a1a1a" >0</text>
<text x="359.40" y="365.60" font-size="8.4" text-anchor="end" font-weight="normal" fill="#1a1a1a" >-0.5</text>
<text x="357.50" y="397.30" font-size="8.4" text-anchor="end" font-weight="normal" fill="#1a1a1a" >-1</text>
<text x="361.70" y="400.90" font-size="8.4" text-anchor="middle" font-weight="normal" fill="#1a1a1a" >-1</text>
<text x="393.30" y="400.90" font-size="8.4" text-anchor="middle" font-weight="normal" fill="#1a1a1a" >-0.5</text>
<text x="422.00" y="400.90" font-size="8.4" text-anchor="middle" font-weight="normal" fill="#1a1a1a" >0</text>
<text x="450.60" y="400.90" font-size="8.4" text-anchor="middle" font-weight="normal" fill="#1a1a1a" >0.5</text>
<text x="477.30" y="400.90" font-size="8.4" text-anchor="middle" font-weight="normal" fill="#1a1a1a" >1</text>
<text x="339.20" y="337.80" font-size="10.2" text-anchor="middle" font-weight="normal" fill="#1a1a1a" >S</text>
<text x="421.50" y="414.60" font-size="9.8" text-anchor="middle" font-weight="normal" fill="#1a1a1a" >G</text>
<rect x="485.8" y="277.3" width="6.6" height="109.7" fill="url(#jet)" stroke="#222" stroke-width="0.9"/>
<line x1="490.8" y1="387.0" x2="492.40000000000003" y2="387.0" stroke="#222" stroke-width="0.6"/>
<text x="495.10" y="390.40" font-size="8.2" text-anchor="start" font-weight="normal" fill="#1a1a1a" >0</text>
<line x1="490.8" y1="366.3" x2="492.40000000000003" y2="366.3" stroke="#222" stroke-width="0.6"/>
<text x="495.10" y="369.70" font-size="8.2" text-anchor="start" font-weight="normal" fill="#1a1a1a" >1</text>
<line x1="490.8" y1="345.6" x2="492.40000000000003" y2="345.6" stroke="#222" stroke-width="0.6"/>
<text x="495.10" y="349.00" font-size="8.2" text-anchor="start" font-weight="normal" fill="#1a1a1a" >2</text>
<line x1="490.8" y1="324.9" x2="492.40000000000003" y2="324.9" stroke="#222" stroke-width="0.6"/>
<text x="495.10" y="328.31" font-size="8.2" text-anchor="start" font-weight="normal" fill="#1a1a1a" >3</text>
<line x1="490.8" y1="304.2" x2="492.40000000000003" y2="304.2" stroke="#222" stroke-width="0.6"/>
<text x="495.10" y="307.61" font-size="8.2" text-anchor="start" font-weight="normal" fill="#1a1a1a" >4</text>
<line x1="490.8" y1="283.5" x2="492.40000000000003" y2="283.5" stroke="#222" stroke-width="0.6"/>
<text x="495.10" y="286.91" font-size="8.2" text-anchor="start" font-weight="normal" fill="#1a1a1a" >5</text>
<clipPath id="pc2"><rect x="363" y="429.3" width="114.7" height="109"/></clipPath>
<rect x="363" y="429.3" width="114.7" height="109" fill="#fff"/>
<g clip-path="url(#pc2)"><ellipse cx="436" cy="462.5" rx="9" ry="2.6" fill="#9aa8e8" opacity="0.6" filter="url(#blur1)" transform="rotate(-16 436 462.5)"/><path d="M430.5,460.6 L437,458.9 L446,458.3 L450.6,458.8 L451.2,461 L450.4,464 L444,465.2 L437,463.6 Z" fill="#1630d0" filter="url(#blur05)"/><ellipse cx="444.3" cy="461" rx="5.6" ry="2.1" fill="#30d8e0" filter="url(#blur05)"/><ellipse cx="445" cy="460.8" rx="4.6" ry="1.6" fill="#e8d830"/><ellipse cx="445.3" cy="460.6" rx="3.9" ry="1.15" fill="#d83018"/><line x1="391.7" y1="429.3" x2="391.7" y2="538.3" stroke="#333" stroke-width="0.7" stroke-dasharray="0.8 2.6"/><line x1="363" y1="511.1" x2="477.7" y2="511.1" stroke="#333" stroke-width="0.7" stroke-dasharray="0.8 2.6"/><line x1="420.4" y1="429.3" x2="420.4" y2="538.3" stroke="#333" stroke-width="0.7" stroke-dasharray="0.8 2.6"/><line x1="363" y1="483.8" x2="477.7" y2="483.8" stroke="#333" stroke-width="0.7" stroke-dasharray="0.8 2.6"/><line x1="449.0" y1="429.3" x2="449.0" y2="538.3" stroke="#333" stroke-width="0.7" stroke-dasharray="0.8 2.6"/><line x1="363" y1="456.6" x2="477.7" y2="456.6" stroke="#333" stroke-width="0.7" stroke-dasharray="0.8 2.6"/><path d="M363.9,490.3 A28.7,27.2 0 0 0 420.4,483.8 A28.7,27.2 0 0 1 476.8,477.3" fill="none" stroke="#111" stroke-width="1.35" stroke-dasharray="10.5 5.5"/></g>
<rect x="363" y="429.3" width="114.7" height="109" fill="none" stroke="#222" stroke-width="1.1"/>
<text x="357.80" y="433.30" font-size="8.4" text-anchor="end" font-weight="normal" fill="#1a1a1a" >1</text>
<text x="357.80" y="460.10" font-size="8.4" text-anchor="end" font-weight="normal" fill="#1a1a1a" >0.5</text>
<text x="357.80" y="487.60" font-size="8.4" text-anchor="end" font-weight="normal" fill="#1a1a1a" >0</text>
<text x="357.80" y="515.60" font-size="8.4" text-anchor="end" font-weight="normal" fill="#1a1a1a" >-0.5</text>
<text x="357.80" y="542.70" font-size="8.4" text-anchor="end" font-weight="normal" fill="#1a1a1a" >-1</text>
<text x="360.40" y="552.30" font-size="8.4" text-anchor="middle" font-weight="normal" fill="#1a1a1a" >-1</text>
<text x="386.00" y="552.30" font-size="8.4" text-anchor="middle" font-weight="normal" fill="#1a1a1a" >-0.5</text>
<text x="419.40" y="552.30" font-size="8.4" text-anchor="middle" font-weight="normal" fill="#1a1a1a" >0</text>
<text x="445.00" y="552.30" font-size="8.4" text-anchor="middle" font-weight="normal" fill="#1a1a1a" >0.5</text>
<text x="477.10" y="552.30" font-size="8.4" text-anchor="middle" font-weight="normal" fill="#1a1a1a" >1</text>
<text x="339.20" y="489.40" font-size="10.2" text-anchor="middle" font-weight="normal" fill="#1a1a1a" >S</text>
<text x="421.50" y="565.80" font-size="9.8" text-anchor="middle" font-weight="normal" fill="#1a1a1a" >G</text>
<rect x="484.6" y="429" width="6.6" height="109.6" fill="url(#jet)" stroke="#222" stroke-width="0.9"/>
<line x1="489.6" y1="538.6" x2="491.20000000000005" y2="538.6" stroke="#222" stroke-width="0.6"/>
<text x="493.90" y="542.00" font-size="8.2" text-anchor="start" font-weight="normal" fill="#1a1a1a" >0</text>
<line x1="489.6" y1="518.0" x2="491.20000000000005" y2="518.0" stroke="#222" stroke-width="0.6"/>
<text x="493.90" y="521.44" font-size="8.2" text-anchor="start" font-weight="normal" fill="#1a1a1a" >10</text>
<line x1="489.6" y1="497.5" x2="491.20000000000005" y2="497.5" stroke="#222" stroke-width="0.6"/>
<text x="493.90" y="500.87" font-size="8.2" text-anchor="start" font-weight="normal" fill="#1a1a1a" >20</text>
<line x1="489.6" y1="476.9" x2="491.20000000000005" y2="476.9" stroke="#222" stroke-width="0.6"/>
<text x="493.90" y="480.31" font-size="8.2" text-anchor="start" font-weight="normal" fill="#1a1a1a" >30</text>
<line x1="489.6" y1="456.3" x2="491.20000000000005" y2="456.3" stroke="#222" stroke-width="0.6"/>
<text x="493.90" y="459.75" font-size="8.2" text-anchor="start" font-weight="normal" fill="#1a1a1a" >40</text>
<line x1="489.6" y1="435.8" x2="491.20000000000005" y2="435.8" stroke="#222" stroke-width="0.6"/>
<text x="493.90" y="439.19" font-size="8.2" text-anchor="start" font-weight="normal" fill="#1a1a1a" >50</text>
<polygon points="553.4,369.5 626.7,345.3 626.7,277.0 553.4,301.2" fill="#fff" stroke="none" stroke-width="0.5" />
<polygon points="626.7,345.3 683.0,377.3 683.0,309.0 626.7,277.0" fill="#fff" stroke="none" stroke-width="0.5" />
<path d="M553.4,358.1 L626.7,333.9 L683.0,365.9" fill="none" stroke="#e9e9e9" stroke-width="0.6"/>
<path d="M553.4,346.7 L626.7,322.5 L683.0,354.5" fill="none" stroke="#e9e9e9" stroke-width="0.6"/>
<path d="M553.4,335.4 L626.7,311.1 L683.0,343.2" fill="none" stroke="#e9e9e9" stroke-width="0.6"/>
<path d="M553.4,324.0 L626.7,299.8 L683.0,331.8" fill="none" stroke="#e9e9e9" stroke-width="0.6"/>
<path d="M553.4,312.6 L626.7,288.4 L683.0,320.4" fill="none" stroke="#e9e9e9" stroke-width="0.6"/>
<line x1="571.7" y1="363.4" x2="571.7" y2="295.1" stroke="#e9e9e9" stroke-width="0.6"/>
<line x1="668.9" y1="369.3" x2="668.9" y2="301.0" stroke="#e9e9e9" stroke-width="0.6"/>
<line x1="590.0" y1="357.4" x2="590.0" y2="289.1" stroke="#e9e9e9" stroke-width="0.6"/>
<line x1="654.8" y1="361.3" x2="654.8" y2="293.0" stroke="#e9e9e9" stroke-width="0.6"/>
<line x1="608.4" y1="351.4" x2="608.4" y2="283.1" stroke="#e9e9e9" stroke-width="0.6"/>
<line x1="640.8" y1="353.3" x2="640.8" y2="285.0" stroke="#e9e9e9" stroke-width="0.6"/>
<line x1="626.7" y1="345.3" x2="626.7" y2="277.0" stroke="#111" stroke-width="1.6"/>
<polygon points="553.4,369.5 609.7,401.5 683.0,377.3 626.7,345.3" fill="#27297f" stroke="none" stroke-width="0.5" />
<clipPath id="floorclip"><polygon points="553.4,369.5 609.7,401.5 683.0,377.3 626.7,345.3"/></clipPath>
<g clip-path="url(#floorclip)"><ellipse cx="623" cy="364" rx="38" ry="9" fill="#2432b0" opacity="0.8" filter="url(#blur3)"/><ellipse cx="623" cy="364" rx="26" ry="6" fill="#1c3cc8" opacity="0.85" filter="url(#blur3)"/></g>
<path d="M631,338 L633.5,340.5 L635,340 L637,344 L639,344.5 L641,348.5 L643,349 L645,353 L647.5,355 L650,359 L653,362 L630,364 Z" fill="#1634cc" filter="url(#blur05)"/>
<g mask="url(#pkmask)"><path d="M586.0,364.0 L592.9,360.6 L598.2,355.3 L604.4,348.2 L609.2,339.4 L611.8,332.4 L614.1,325.3 L615.6,318.0 L617.3,311.2 L619.3,306.5 L620.6,305.0 L621.2,302.5 L622.4,300.9 L623.3,303.5 L624.2,306.0 L625.1,311.2 L626.2,318.0 L627.4,325.3 L629.0,332.4 L630.9,339.4 L636.2,348.2 L645.9,355.3 L652.9,360.6 L658.0,364.0 L650.0,368.0 L636.0,371.0 L620.0,372.0 L604.0,370.0 L592.0,367.0 Z" fill="url(#pkg1)" filter="url(#blur05)"/></g>
<path d="M553.4,369.5 L553.4,301.2 L626.7,277.0 L683.0,309.0 L683.0,377.3 L609.7,401.5 Z" fill="none" stroke="#111" stroke-width="1.6" stroke-linejoin="miter"/>
<line x1="551.0" y1="369.5" x2="553.4" y2="369.5" stroke="#111" stroke-width="1"/>
<line x1="551.0" y1="358.1" x2="553.4" y2="358.1" stroke="#111" stroke-width="1"/>
<line x1="551.0" y1="346.7" x2="553.4" y2="346.7" stroke="#111" stroke-width="1"/>
<line x1="551.0" y1="335.4" x2="553.4" y2="335.4" stroke="#111" stroke-width="1"/>
<line x1="551.0" y1="324.0" x2="553.4" y2="324.0" stroke="#111" stroke-width="1"/>
<line x1="551.0" y1="312.6" x2="553.4" y2="312.6" stroke="#111" stroke-width="1"/>
<line x1="551.0" y1="301.2" x2="553.4" y2="301.2" stroke="#111" stroke-width="1"/>
<text x="548.00" y="366.65" font-size="7.7" text-anchor="end" font-weight="normal" fill="#1a1a1a" >0</text>
<text x="548.00" y="345.38" font-size="7.7" text-anchor="end" font-weight="normal" fill="#1a1a1a" >2</text>
<text x="548.00" y="322.62" font-size="7.7" text-anchor="end" font-weight="normal" fill="#1a1a1a" >4</text>
<text x="548.00" y="299.85" font-size="7.7" text-anchor="end" font-weight="normal" fill="#1a1a1a" >6</text>
<line x1="553.4" y1="369.5" x2="551.4" y2="371.1" stroke="#111" stroke-width="1"/>
<line x1="683.0" y1="377.3" x2="685.0" y2="378.9" stroke="#111" stroke-width="1"/>
<line x1="567.5" y1="377.5" x2="565.5" y2="379.1" stroke="#111" stroke-width="1"/>
<line x1="664.7" y1="383.4" x2="666.7" y2="385.0" stroke="#111" stroke-width="1"/>
<line x1="581.5" y1="385.5" x2="579.5" y2="387.1" stroke="#111" stroke-width="1"/>
<line x1="646.4" y1="389.4" x2="648.4" y2="391.0" stroke="#111" stroke-width="1"/>
<line x1="595.6" y1="393.5" x2="593.6" y2="395.1" stroke="#111" stroke-width="1"/>
<line x1="628.0" y1="395.4" x2="630.0" y2="397.1" stroke="#111" stroke-width="1"/>
<line x1="609.7" y1="401.5" x2="607.7" y2="403.1" stroke="#111" stroke-width="1"/>
<line x1="609.7" y1="401.5" x2="611.7" y2="403.1" stroke="#111" stroke-width="1"/>
<rect x="703.8" y="282.3" width="7" height="110" fill="url(#jet)" stroke="#222" stroke-width="0.9"/>
<line x1="709.0999999999999" y1="392.3" x2="710.8" y2="392.3" stroke="#222" stroke-width="0.6"/>
<text x="713.00" y="395.70" font-size="8.2" text-anchor="start" font-weight="normal" fill="#1a1a1a" >0</text>
<line x1="709.0999999999999" y1="371.5" x2="710.8" y2="371.5" stroke="#222" stroke-width="0.6"/>
<text x="713.00" y="374.95" font-size="8.2" text-anchor="start" font-weight="normal" fill="#1a1a1a" >1</text>
<line x1="709.0999999999999" y1="350.8" x2="710.8" y2="350.8" stroke="#222" stroke-width="0.6"/>
<text x="713.00" y="354.19" font-size="8.2" text-anchor="start" font-weight="normal" fill="#1a1a1a" >2</text>
<line x1="709.0999999999999" y1="330.0" x2="710.8" y2="330.0" stroke="#222" stroke-width="0.6"/>
<text x="713.00" y="333.44" font-size="8.2" text-anchor="start" font-weight="normal" fill="#1a1a1a" >3</text>
<line x1="709.0999999999999" y1="309.3" x2="710.8" y2="309.3" stroke="#222" stroke-width="0.6"/>
<text x="713.00" y="312.68" font-size="8.2" text-anchor="start" font-weight="normal" fill="#1a1a1a" >4</text>
<line x1="709.0999999999999" y1="288.5" x2="710.8" y2="288.5" stroke="#222" stroke-width="0.6"/>
<text x="713.00" y="291.93" font-size="8.2" text-anchor="start" font-weight="normal" fill="#1a1a1a" >5</text>
<polygon points="552.9,519.6 626.2,496.0 626.2,428.6 552.9,452.2" fill="#fff" stroke="none" stroke-width="0.5" />
<polygon points="626.2,496.0 683.0,527.4 683.0,460.0 626.2,428.6" fill="#fff" stroke="none" stroke-width="0.5" />
<path d="M552.9,508.4 L626.2,484.8 L683.0,516.2" fill="none" stroke="#e9e9e9" stroke-width="0.6"/>
<path d="M552.9,497.1 L626.2,473.5 L683.0,504.9" fill="none" stroke="#e9e9e9" stroke-width="0.6"/>
<path d="M552.9,485.9 L626.2,462.3 L683.0,493.7" fill="none" stroke="#e9e9e9" stroke-width="0.6"/>
<path d="M552.9,474.7 L626.2,451.1 L683.0,482.5" fill="none" stroke="#e9e9e9" stroke-width="0.6"/>
<path d="M552.9,463.4 L626.2,439.8 L683.0,471.2" fill="none" stroke="#e9e9e9" stroke-width="0.6"/>
<line x1="571.2" y1="513.7" x2="571.2" y2="446.3" stroke="#e9e9e9" stroke-width="0.6"/>
<line x1="668.8" y1="519.5" x2="668.8" y2="452.1" stroke="#e9e9e9" stroke-width="0.6"/>
<line x1="589.5" y1="507.8" x2="589.5" y2="440.4" stroke="#e9e9e9" stroke-width="0.6"/>
<line x1="654.6" y1="511.7" x2="654.6" y2="444.3" stroke="#e9e9e9" stroke-width="0.6"/>
<line x1="607.9" y1="501.9" x2="607.9" y2="434.5" stroke="#e9e9e9" stroke-width="0.6"/>
<line x1="640.4" y1="503.9" x2="640.4" y2="436.5" stroke="#e9e9e9" stroke-width="0.6"/>
<line x1="626.2" y1="496.0" x2="626.2" y2="428.6" stroke="#111" stroke-width="1.6"/>
<polygon points="552.9,519.6 609.7,551.0 683.0,527.4 626.2,496.0" fill="#575b8d" stroke="none" stroke-width="0.5" />
<line x1="626.2" y1="496.0" x2="683.0" y2="527.4" stroke="#111" stroke-width="1.5"/>
<path d="M621.8,448.5 L621.0,455.0 L620.2,465.3 L618.5,483.0 L616.2,500.6 L613.5,513.0 L618.0,515.2 L623.0,515.0 L627.2,513.2 L625.5,500.6 L624.1,483.0 L623.2,465.3 L622.6,455.0 Z" fill="url(#pkg2)" filter="url(#blur05)"/>
<path d="M552.9,519.6 L552.9,452.2 L626.2,428.6 L683.0,460.0 L683.0,527.4 L609.7,551.0 Z" fill="none" stroke="#111" stroke-width="1.6" stroke-linejoin="miter"/>
<line x1="550.5" y1="519.6" x2="552.9" y2="519.6" stroke="#111" stroke-width="1"/>
<line x1="550.5" y1="508.4" x2="552.9" y2="508.4" stroke="#111" stroke-width="1"/>
<line x1="550.5" y1="497.1" x2="552.9" y2="497.1" stroke="#111" stroke-width="1"/>
<line x1="550.5" y1="485.9" x2="552.9" y2="485.9" stroke="#111" stroke-width="1"/>
<line x1="550.5" y1="474.7" x2="552.9" y2="474.7" stroke="#111" stroke-width="1"/>
<line x1="550.5" y1="463.4" x2="552.9" y2="463.4" stroke="#111" stroke-width="1"/>
<line x1="550.5" y1="452.2" x2="552.9" y2="452.2" stroke="#111" stroke-width="1"/>
<text x="550.60" y="519.55" font-size="7.7" text-anchor="end" font-weight="normal" fill="#1a1a1a" >0</text>
<text x="550.60" y="497.68" font-size="7.7" text-anchor="end" font-weight="normal" fill="#1a1a1a" >20</text>
<text x="550.60" y="475.22" font-size="7.7" text-anchor="end" font-weight="normal" fill="#1a1a1a" >40</text>
<text x="550.60" y="452.75" font-size="7.7" text-anchor="end" font-weight="normal" fill="#1a1a1a" >60</text>
<line x1="552.9" y1="519.6" x2="550.9" y2="521.2" stroke="#111" stroke-width="1"/>
<line x1="683.0" y1="527.4" x2="685.0" y2="529.0" stroke="#111" stroke-width="1"/>
<line x1="567.1" y1="527.5" x2="565.1" y2="529.1" stroke="#111" stroke-width="1"/>
<line x1="664.7" y1="533.3" x2="666.7" y2="534.9" stroke="#111" stroke-width="1"/>
<line x1="581.3" y1="535.3" x2="579.3" y2="536.9" stroke="#111" stroke-width="1"/>
<line x1="646.4" y1="539.2" x2="648.4" y2="540.8" stroke="#111" stroke-width="1"/>
<line x1="595.5" y1="543.1" x2="593.5" y2="544.8" stroke="#111" stroke-width="1"/>
<line x1="628.0" y1="545.1" x2="630.0" y2="546.7" stroke="#111" stroke-width="1"/>
<line x1="609.7" y1="551.0" x2="607.7" y2="552.6" stroke="#111" stroke-width="1"/>
<line x1="609.7" y1="551.0" x2="611.7" y2="552.6" stroke="#111" stroke-width="1"/>
<rect x="699" y="433.5" width="7" height="110" fill="url(#jet)" stroke="#222" stroke-width="0.9"/>
<line x1="704.3" y1="543.5" x2="706" y2="543.5" stroke="#222" stroke-width="0.6"/>
<text x="708.20" y="546.90" font-size="8.2" text-anchor="start" font-weight="normal" fill="#1a1a1a" >0</text>
<line x1="704.3" y1="522.9" x2="706" y2="522.9" stroke="#222" stroke-width="0.6"/>
<text x="708.20" y="526.26" font-size="8.2" text-anchor="start" font-weight="normal" fill="#1a1a1a" >10</text>
<line x1="704.3" y1="502.2" x2="706" y2="502.2" stroke="#222" stroke-width="0.6"/>
<text x="708.20" y="505.62" font-size="8.2" text-anchor="start" font-weight="normal" fill="#1a1a1a" >20</text>
<line x1="704.3" y1="481.6" x2="706" y2="481.6" stroke="#222" stroke-width="0.6"/>
<text x="708.20" y="484.99" font-size="8.2" text-anchor="start" font-weight="normal" fill="#1a1a1a" >30</text>
<line x1="704.3" y1="460.9" x2="706" y2="460.9" stroke="#222" stroke-width="0.6"/>
<text x="708.20" y="464.35" font-size="8.2" text-anchor="start" font-weight="normal" fill="#1a1a1a" >40</text>
<line x1="704.3" y1="440.3" x2="706" y2="440.3" stroke="#222" stroke-width="0.6"/>
<text x="708.20" y="443.71" font-size="8.2" text-anchor="start" font-weight="normal" fill="#1a1a1a" >50</text>
<text x="547.30" y="375.20" font-size="7.4" text-anchor="middle" font-weight="normal" fill="#1a1a1a" >1</text>
<text x="555.40" y="386.40" font-size="7.4" text-anchor="middle" font-weight="normal" fill="#1a1a1a" >0.5</text>
<text x="569.60" y="390.60" font-size="7.4" text-anchor="middle" font-weight="normal" fill="#1a1a1a" >0</text>
<text x="581.80" y="400.90" font-size="7.4" text-anchor="middle" font-weight="normal" fill="#1a1a1a" >-0.5</text>
<text x="598.00" y="407.30" font-size="7.4" text-anchor="middle" font-weight="normal" fill="#1a1a1a" >-1</text>
<text x="614.70" y="410.00" font-size="7.4" text-anchor="middle" font-weight="normal" fill="#1a1a1a" >-1</text>
<text x="634.20" y="404.50" font-size="7.4" text-anchor="middle" font-weight="normal" fill="#1a1a1a" >-0.5</text>
<text x="653.70" y="398.40" font-size="7.4" text-anchor="middle" font-weight="normal" fill="#1a1a1a" >0</text>
<text x="671.80" y="394.00" font-size="7.4" text-anchor="middle" font-weight="normal" fill="#1a1a1a" >0.5</text>
<text x="689.00" y="384.40" font-size="7.4" text-anchor="middle" font-weight="normal" fill="#1a1a1a" >1</text>
<text x="560.50" y="402.90" font-size="9.8" text-anchor="middle" font-weight="normal" fill="#1a1a1a" >S</text>
<text x="662.50" y="411.00" font-size="9.8" text-anchor="middle" font-weight="normal" fill="#1a1a1a" >G</text>
<text transform="translate(537.3 341.4) rotate(-90)" font-size="9.6" text-anchor="middle" fill="#1a1a1a">Counts</text>
<text x="546.60" y="528.20" font-size="7.4" text-anchor="middle" font-weight="normal" fill="#1a1a1a" >1</text>
<text x="555.00" y="536.30" font-size="7.4" text-anchor="middle" font-weight="normal" fill="#1a1a1a" >0.5</text>
<text x="568.00" y="540.50" font-size="7.4" text-anchor="middle" font-weight="normal" fill="#1a1a1a" >0</text>
<text x="581.30" y="550.60" font-size="7.4" text-anchor="middle" font-weight="normal" fill="#1a1a1a" >-0.5</text>
<text x="597.20" y="557.90" font-size="7.4" text-anchor="middle" font-weight="normal" fill="#1a1a1a" >-1</text>
<text x="614.70" y="559.60" font-size="7.4" text-anchor="middle" font-weight="normal" fill="#1a1a1a" >-1</text>
<text x="632.80" y="554.00" font-size="7.4" text-anchor="middle" font-weight="normal" fill="#1a1a1a" >-0.5</text>
<text x="653.00" y="548.50" font-size="7.4" text-anchor="middle" font-weight="normal" fill="#1a1a1a" >0</text>
<text x="670.40" y="543.50" font-size="7.4" text-anchor="middle" font-weight="normal" fill="#1a1a1a" >0.5</text>
<text x="688.50" y="534.00" font-size="7.4" text-anchor="middle" font-weight="normal" fill="#1a1a1a" >1</text>
<text x="560.00" y="552.60" font-size="9.8" text-anchor="middle" font-weight="normal" fill="#1a1a1a" >S</text>
<text x="662.00" y="560.60" font-size="9.8" text-anchor="middle" font-weight="normal" fill="#1a1a1a" >G</text>
<text transform="translate(533.7 494.4) rotate(-90)" font-size="9.6" text-anchor="middle" fill="#1a1a1a">Counts</text>
</svg></body></html>
